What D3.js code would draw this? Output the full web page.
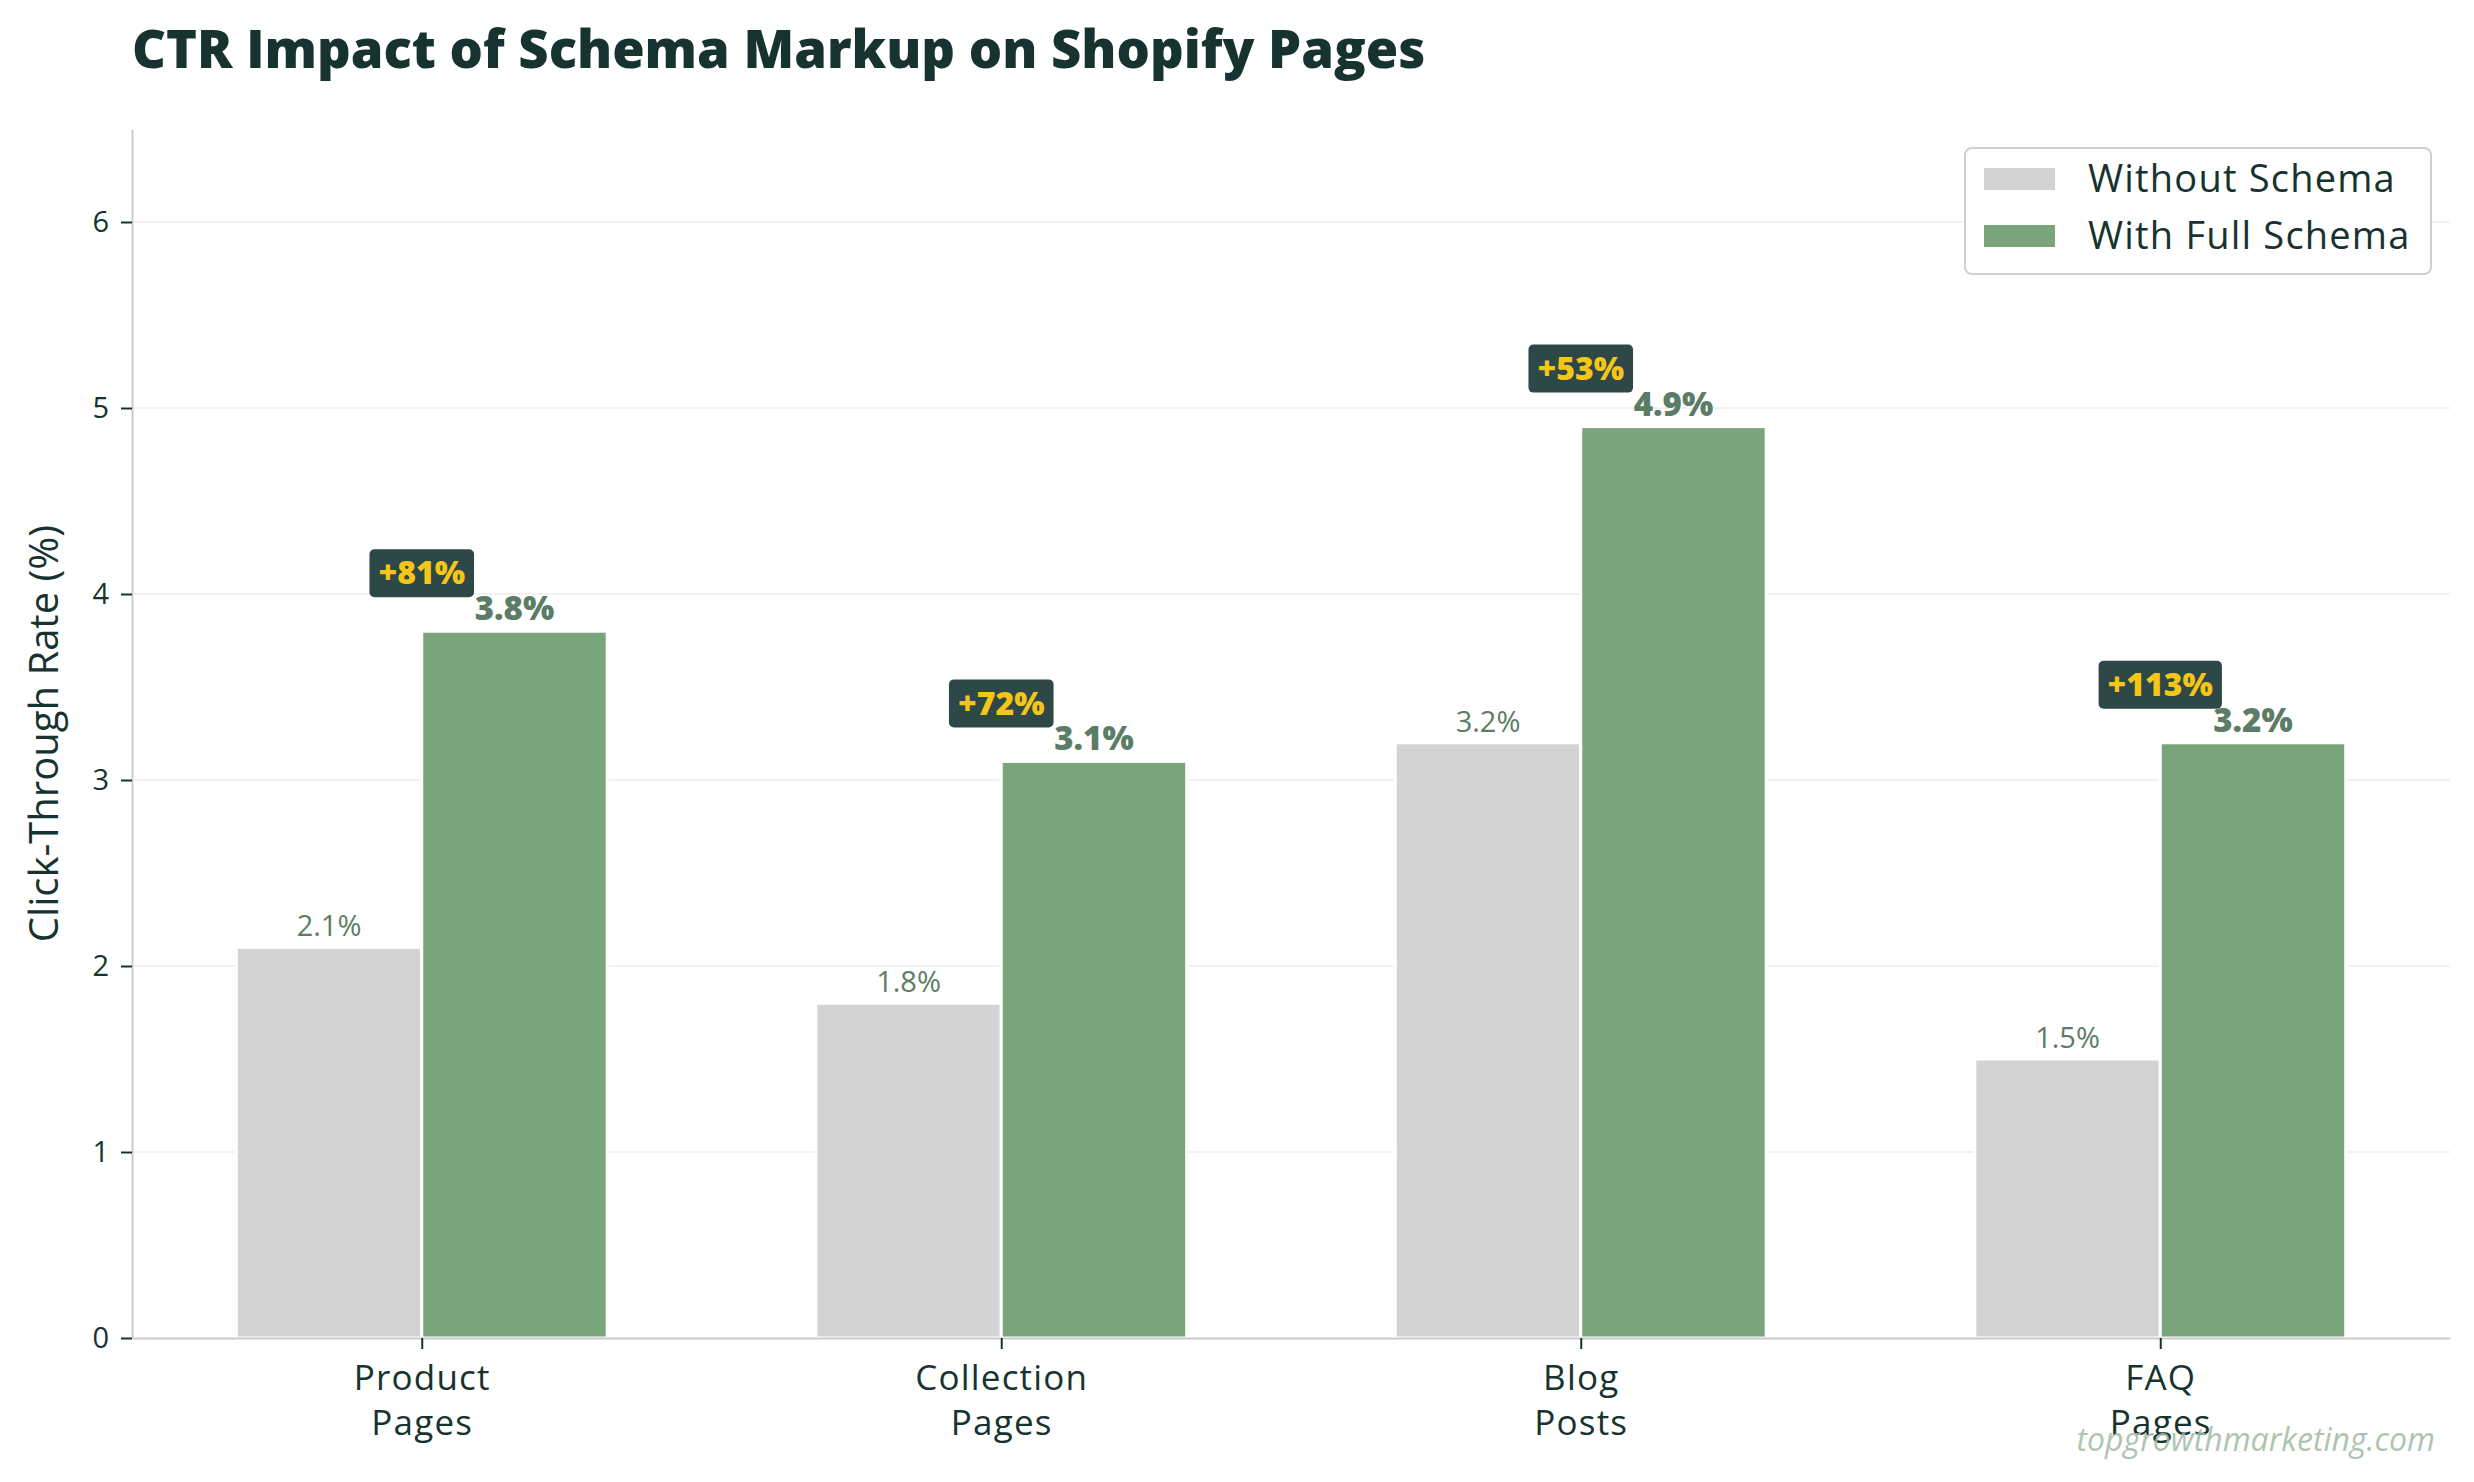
<!DOCTYPE html>
<html>
<head>
<meta charset="utf-8">
<script src="https://cdn.jsdelivr.net/npm/d3@7"></script>
<style>
  body { margin: 0; background: #fff; }
  svg text { font-family: 'Open Sans', 'Noto Sans', sans-serif; }
</style>
</head>
<body>
<div id="chart"></div>
<script>
var categories = [["Product", "Pages"], ["Collection", "Pages"], ["Blog", "Posts"], ["FAQ", "Pages"]];
var withoutSchema = [2.1, 1.8, 3.2, 1.5];
var withSchema = [3.8, 3.1, 4.9, 3.2];
var lifts = ["+81%", "+72%", "+53%", "+113%"];
var yTicks = [0, 1, 2, 3, 4, 5, 6];
var seriesNames = ["Without Schema", "With Full Schema"];

var W = 2474, H = 1482;
var m = { left: 132, right: 24, top: 129, bottom: 144 };
var dark = "#17332f", grey = "#d3d3d3", green = "#7aa57b", labelCol = "#5b7d66";

var svg = d3.select("#chart").append("svg")
    .attr("width", W)
    .attr("height", H);

var x = d3.scaleLinear().domain([-0.5, categories.length - 0.5]).range([m.left, W - m.right]);
var y = d3.scaleLinear().domain([0, 6.5]).range([H - m.bottom, m.top]);
var bw = 0.32;

// grid
svg.append("g").selectAll("line").data(yTicks.filter(function(d) { return d > 0; }))
  .enter().append("line")
    .attr("x1", m.left).attr("x2", W - m.right)
    .attr("y1", function(d) { return y(d); })
    .attr("y2", function(d) { return y(d); })
    .attr("stroke", "#f2f2f2").attr("stroke-width", 2);

// bars
var idx = d3.range(categories.length);
svg.append("g").selectAll("rect").data(idx).enter().append("rect")
    .attr("x", function(i) { return x(i - bw); })
    .attr("width", x(bw) - x(0))
    .attr("y", function(i) { return y(withoutSchema[i]); })
    .attr("height", function(i) { return y(0) - y(withoutSchema[i]); })
    .attr("fill", grey).attr("stroke", "#fff").attr("stroke-width", 3);

svg.append("g").selectAll("rect").data(idx).enter().append("rect")
    .attr("x", function(i) { return x(i); })
    .attr("width", x(bw) - x(0))
    .attr("y", function(i) { return y(withSchema[i]); })
    .attr("height", function(i) { return y(0) - y(withSchema[i]); })
    .attr("fill", green).attr("stroke", "#fff").attr("stroke-width", 3);

// axes
var yAxis = svg.append("g").attr("transform", "translate(" + m.left + ",0)")
    .call(d3.axisLeft(y).tickValues(yTicks).tickFormat(d3.format("d"))
      .tickSize(11).tickSizeOuter(0).tickPadding(12));
yAxis.select(".domain").attr("stroke", "#cccccc").attr("stroke-width", 2);
yAxis.selectAll(".tick line").attr("stroke", dark).attr("stroke-width", 2);
yAxis.selectAll(".tick text").attr("fill", dark).attr("font-size", 29)
    .style("font-family", "'Open Sans', sans-serif");

var xAxis = svg.append("g").attr("transform", "translate(0," + y(0) + ")")
    .call(d3.axisBottom(x).tickValues(idx).tickSize(11).tickSizeOuter(0).tickFormat(""));
xAxis.select(".domain").attr("stroke", "#cccccc").attr("stroke-width", 2);
xAxis.selectAll(".tick line").attr("stroke", dark).attr("stroke-width", 2);
xAxis.selectAll(".tick").append("text")
    .attr("fill", dark).attr("font-size", 35).attr("text-anchor", "middle")
    .attr("letter-spacing", 1.2)
    .style("font-family", "'Open Sans', sans-serif")
    .selectAll("tspan").data(function(i) { return categories[i]; })
    .enter().append("tspan")
    .attr("x", 0)
    .attr("y", function(d, k) { return 52 + k * 45; })
    .text(function(d) { return d; });

// value labels
svg.append("g").selectAll("text").data(idx).enter().append("text")
    .attr("x", function(i) { return x(i - bw / 2); })
    .attr("y", function(i) { return y(withoutSchema[i]) - 11; })
    .attr("text-anchor", "middle").attr("font-size", 29).attr("font-weight", 400)
    .attr("fill", labelCol)
    .text(function(i) { return withoutSchema[i].toFixed(1) + "%"; });

svg.append("g").selectAll("text").data(idx).enter().append("text")
    .attr("x", function(i) { return x(i + bw / 2); })
    .attr("y", function(i) { return y(withSchema[i]) - 11; })
    .attr("text-anchor", "middle").attr("font-size", 33).attr("font-weight", 800)
    .attr("fill", labelCol)
    .text(function(i) { return withSchema[i].toFixed(1) + "%"; });

// lift badges
var badges = svg.append("g").selectAll("g").data(idx).enter().append("g")
    .attr("transform", function(i) { return "translate(" + x(i) + "," + (y(withSchema[i]) - 58) + ")"; });
badges.append("rect").attr("rx", 5).attr("fill", "#2d4846");
badges.append("text")
    .attr("text-anchor", "middle").attr("dy", "0.35em")
    .attr("font-size", 32).attr("font-weight", 800).attr("fill", "#f5c518")
    .text(function(i) { return lifts[i]; });
badges.each(function() {
  var g = d3.select(this);
  var bb = g.select("text").node().getBBox();
  g.select("rect").attr("x", -bb.width / 2 - 9).attr("width", bb.width + 18)
    .attr("y", -24).attr("height", 48);
});

// y label
svg.append("text")
    .attr("transform", "translate(58," + (y(0) + y(6.5)) / 2 + ") rotate(-90)")
    .attr("text-anchor", "middle").attr("font-size", 40).attr("font-weight", 500)
    .attr("fill", dark)
    .text("Click-Through Rate (%)");

// title
svg.append("text")
    .attr("x", 132).attr("y", 68)
    .attr("font-size", 52.5).attr("font-weight", 800).attr("fill", dark)
    .text("CTR Impact of Schema Markup on Shopify Pages");

// legend
var lg = svg.append("g").attr("transform", "translate(1965,148)");
lg.append("rect").attr("width", 466).attr("height", 126).attr("rx", 7)
    .attr("fill", "#fff").attr("stroke", "#d0d0d0").attr("stroke-width", 2);
var items = lg.selectAll("g").data(seriesNames).enter().append("g")
    .attr("transform", function(d, k) { return "translate(19," + (20 + k * 57) + ")"; });
items.append("rect").attr("width", 71).attr("height", 22)
    .attr("fill", function(d, k) { return k ? green : grey; });
items.append("text").attr("x", 104).attr("y", 11).attr("dy", "0.35em")
    .attr("font-size", 38).attr("fill", dark).attr("letter-spacing", 1.2)
    .text(function(d) { return d; });

// watermark (overlaps the last tick label, as in the original)
svg.append("text")
    .attr("x", 2435).attr("y", 1451).attr("text-anchor", "end")
    .attr("font-size", 32).attr("font-style", "italic").attr("fill", "#9fbba2")
    .attr("opacity", 0.85)
    .text("topgrowthmarketing.com");
</script>
</body>
</html>
